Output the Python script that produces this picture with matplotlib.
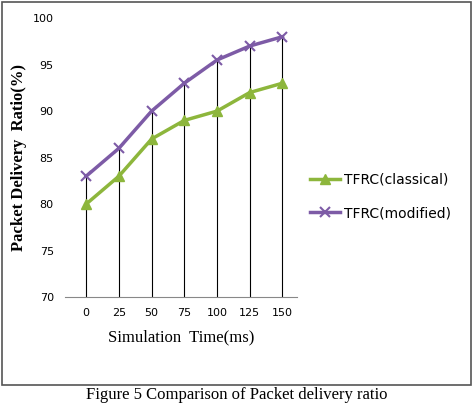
import matplotlib
matplotlib.use("Agg")
import matplotlib.pyplot as plt

times = ["0", "25", "50", "75", "100", "125", "150"]
classical = [80, 83, 87, 89, 90, 92, 93]
modified = [83, 86, 90, 93, 95.5, 97, 98]
yticks = [70, 75, 80, 85, 90, 95, 100]

fig = plt.figure(figsize=(4.74, 4.03), dpi=100)
fig.patches.append(plt.Rectangle((0.004, 0.045), 0.99, 0.95, transform=fig.transFigure,
                                 fill=False, edgecolor="#555555", lw=1.2))
ax = fig.add_axes([0.137, 0.263, 0.49, 0.692])
x = list(range(len(times)))
for xi, c, m in zip(x, classical, modified):
    ax.plot([xi, xi], [70, max(c, m)], color="black", lw=0.8, zorder=1)
ax.plot(x, classical, color="#8DB63C", lw=2.5, marker="^", ms=7, label="TFRC(classical)", zorder=3)
ax.plot(x, modified, color="#7D5BA6", lw=2.5, marker="x", ms=7, mew=1.5, label="TFRC(modified)", zorder=3)
ax.set_xlim(-0.65, 6.45)
ax.set_ylim(70, 100)
ax.set_yticks(yticks)
ax.set_xticks(x)
ax.set_xticklabels(times)
for s in ["top", "right", "left"]:
    ax.spines[s].set_visible(False)
ax.spines["bottom"].set_color("#888888")
ax.tick_params(axis="both", length=0, labelsize=8, pad=8)
ax.set_xlabel("Simulation  Time(ms)", family="Liberation Serif", fontsize=12, labelpad=8)
ax.set_ylabel("Packet Delivery  Ratio(%)", family="Liberation Serif", fontsize=12, fontweight="bold", labelpad=4)
ax.legend(loc="center left", bbox_to_anchor=(1.0, 0.36), frameon=False, fontsize=10,
          handlelength=2.2, labelspacing=1.4, handletextpad=0.3)
fig.text(0.5, 0.0, "Figure 5 Comparison of Packet delivery ratio", ha="center", va="bottom",
         family="Liberation Serif", fontsize=12)
fig.savefig("out.png", dpi=100)
